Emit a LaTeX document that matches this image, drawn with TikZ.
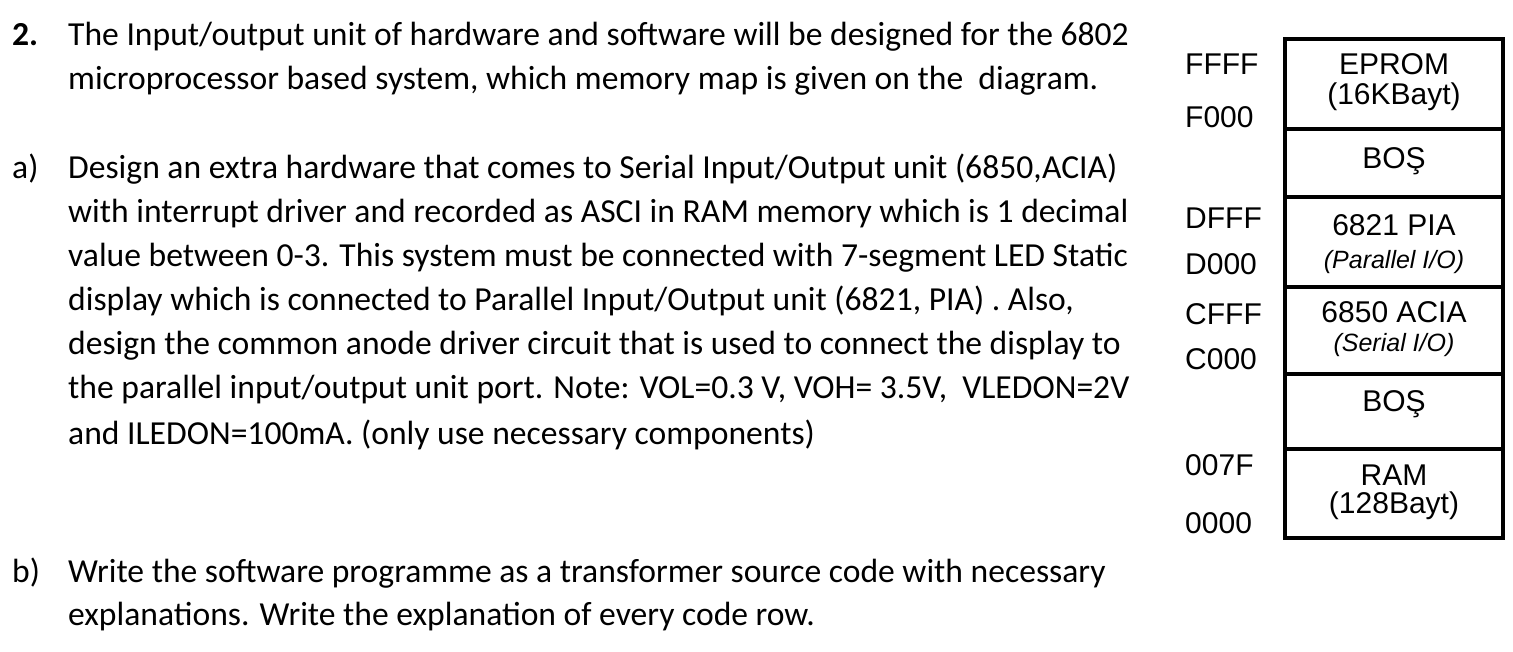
\documentclass[tikz,border=0pt]{standalone}
\usepackage{fontspec}
\setmainfont{Carlito}
\newfontfamily\arial{Liberation Sans}
\begin{document}
\begin{tikzpicture}[x=1pt,y=-1pt,
  tx/.style={anchor=base west,inner sep=0,font=\fontsize{33.6}{38}\selectfont},
  ml/.style={anchor=base west,inner sep=0,font=\arial\fontsize{30}{32}\selectfont},
  mb/.style={draw,line width=4pt},
  bt/.style={inner sep=0,font=\arial\fontsize{30}{33}\selectfont},
  bi/.style={inner sep=0,font=\arial\itshape\fontsize{25}{28}\selectfont}]
\useasboundingbox (0,0) rectangle (1513,652);
\node[tx] (n2) at (12,46) {\textbf{2.}};
\node[tx] (l1) at (68,46) {The Input/output unit of hardware and software will be designed for the 6802};
\node[tx] (l2) at (68,90) {microprocessor based system, which memory map is given on the\ \ diagram.};
\node[tx] (na) at (12,179) {a)};
\node[tx] (a1) at (68,179) {Design an extra hardware that comes to Serial Input/Output unit (6850,ACIA)};
\node[tx] (a2) at (68,223) {with interrupt driver and recorded as ASCI in RAM memory which is 1 decimal};
\node[tx] (a3) at (68,267) {value between 0-3. This system must be connected with 7-segment LED Static};
\node[tx] (a4) at (68,311) {display which is connected to Parallel Input/Output unit (6821, PIA) . Also,};
\node[tx] (a5) at (68,355) {design the common anode driver circuit that is used to connect the display to};
\node[tx] (a6) at (68,399) {the parallel input/output unit port. Note: VOL=0.3 V, VOH= 3.5V,\ \ VLEDON=2V};
\node[tx] (a7) at (68,444) {and ILEDON=100mA. (only use necessary components)};
\node[tx] (nb) at (12,582) {b)};
\node[tx] (b1) at (68,582) {Write the software programme as a transformer source code with necessary};
\node[tx] (b2) at (68,625) {explanations. Write the explanation of every code row.};
% memory map
\draw[mb] (1285,39) rectangle (1503,129);
\draw[mb] (1285,129) rectangle (1503,197);
\draw[mb] (1285,197) rectangle (1503,287);
\draw[mb] (1285,287) rectangle (1503,374);
\draw[mb] (1285,374) rectangle (1503,449);
\draw[mb] (1285,449) rectangle (1503,538);
\node[bt] (e1) at (1394,64) {EPROM};
\node[bt] (e2) at (1394,97) {(16KBayt)};
\node[bt] (b01) at (1394,161) {BOŞ};
\node[bt] (p1) at (1394,225) {6821 PIA};
\node[bi] (p2) at (1394,262) {(Parallel I/O)};
\node[bt] (c1) at (1394,312) {6850 ACIA};
\node[bi] (c2) at (1394,345) {(Serial I/O)};
\node[bt] (b02) at (1394,404) {BOŞ};
\node[bt] (r1) at (1394,475) {RAM};
\node[bt] (r2) at (1394,506) {(128Bayt)};
\node[ml] (m1) at (1185,75) {FFFF};
\node[ml] (m2) at (1185,128) {F000};
\node[ml] (m3) at (1185,229) {DFFF};
\node[ml] (m4) at (1185,275) {D000};
\node[ml] (m5) at (1185,325) {CFFF};
\node[ml] (m6) at (1185,370) {C000};
\node[ml] (m7) at (1185,475) {007F};
\node[ml] (m8) at (1185,533) {0000};
\end{tikzpicture}
\end{document}
